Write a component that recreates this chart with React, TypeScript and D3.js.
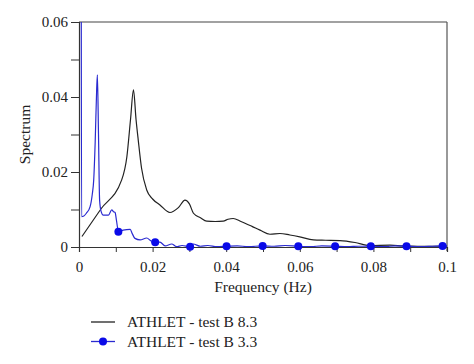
import { useEffect, useRef } from "react";
import * as d3 from "d3";

// black series (test B 8.3)
const freqB83 = [0.0008, 0.006, 0.0116, 0.013, 0.014, 0.0148, 0.0155, 0.0161, 0.017, 0.0184, 0.02, 0.022, 0.0247, 0.027, 0.0288, 0.03, 0.0311, 0.033, 0.0347, 0.037, 0.0392, 0.0405, 0.0419, 0.044, 0.047, 0.0492, 0.0519, 0.0546, 0.0573, 0.06, 0.0637, 0.067, 0.0709, 0.075, 0.079, 0.0845, 0.088, 0.092, 0.096, 0.1];
const specB83 = [0.0028, 0.0102, 0.0179, 0.024, 0.034, 0.0419, 0.034, 0.0285, 0.021, 0.0152, 0.0128, 0.0112, 0.0092, 0.0105, 0.0125, 0.0115, 0.009, 0.0078, 0.0069, 0.0068, 0.0069, 0.0074, 0.0076, 0.0068, 0.0055, 0.0045, 0.0034, 0.0036, 0.0032, 0.0027, 0.0019, 0.0018, 0.0017, 0.0012, 0.0004, 0.0005, 0.0003, 0.0002, 0.0002, 0.0002];

// blue series (test B 3.3)
const freqB33 = [0.0006, 0.0007, 0.0012, 0.002, 0.003, 0.0036, 0.004, 0.0044, 0.0048, 0.005, 0.0053, 0.0056, 0.006, 0.0066, 0.008, 0.0089, 0.0094, 0.0098, 0.0102, 0.0107, 0.012, 0.0139, 0.0145, 0.0152, 0.0166, 0.0184, 0.0196, 0.0207, 0.022, 0.0234, 0.0252, 0.0265, 0.028, 0.0302, 0.031, 0.033, 0.035, 0.0375, 0.0401, 0.043, 0.046, 0.0499, 0.053, 0.056, 0.0596, 0.063, 0.066, 0.0696, 0.073, 0.076, 0.0793, 0.083, 0.086, 0.089, 0.093, 0.096, 0.0988, 0.1];
const specB33 = [0.08, 0.0081, 0.0082, 0.009, 0.0107, 0.014, 0.0179, 0.028, 0.042, 0.0459, 0.03, 0.0125, 0.0095, 0.0085, 0.0085, 0.0099, 0.0094, 0.0092, 0.007, 0.0041, 0.0045, 0.0047, 0.0035, 0.0023, 0.0019, 0.0024, 0.0016, 0.0013, 0.0013, 0.0003, 0.0008, 0.0001, 0.0004, 0.0001, 0.0008, 0.0002, 0.0004, 0.0001, 0.0002, 0.0003, 0.0001, 0.0003, 0.0002, 0.0004, 0.0002, 0.0001, 0.0003, 0.0002, 0.0001, 0.0002, 0.0002, 0.0001, 0.0003, 0.0002, 0.0001, 0.0002, 0.0003, 0.0003];
const markerFreq = [0.0107, 0.0207, 0.0302, 0.0401, 0.0499, 0.0596, 0.0696, 0.0793, 0.089, 0.0988];
const markerSpec = [0.0041, 0.0013, 0.0001, 0.0002, 0.0003, 0.0002, 0.0002, 0.0002, 0.0002, 0.0003];

const xTicks = [0, 0.02, 0.04, 0.06, 0.08, 0.1];
const yTicks = [0, 0.02, 0.04, 0.06];
const legendLabels = ["ATHLET - test B 8.3", "ATHLET - test B 3.3"];

const W = 474, H = 364;
const margin = { top: 22, right: 27, bottom: 117, left: 79 };
const font = "Liberation Serif";

export default function App() {
  const ref = useRef<SVGSVGElement>(null);

  useEffect(() => {
    document.body.style.margin = "0";
    const svg = d3.select(ref.current);
    svg.selectAll("*").remove();
    const iw = W - margin.left - margin.right;
    const ih = H - margin.top - margin.bottom;

    const x = d3.scaleLinear().domain([0, 0.1]).range([0, iw]);
    const y = d3.scaleLinear().domain([0, 0.06]).range([ih, 0]);

    svg.append("defs").append("clipPath").attr("id", "plotclip")
      .append("rect").attr("width", iw).attr("height", ih);

    const g = svg.append("g").attr("transform", `translate(${margin.left},${margin.top})`);

    // box top and right
    g.append("line").attr("x1", 0).attr("x2", iw).attr("y1", 0).attr("y2", 0).attr("stroke", "#444").attr("stroke-width", 1.2);
    g.append("line").attr("x1", iw).attr("x2", iw).attr("y1", 0).attr("y2", ih + 4).attr("stroke", "#555").attr("stroke-width", 1.2);

    // x axis
    const xa = g.append("g").attr("transform", `translate(0,${ih})`)
      .call(d3.axisBottom(x).ticks(10).tickSize(5).tickFormat(d => xTicks.some(t => Math.abs(t - +d) < 1e-9) ? d3.format("~g")(+d) : ""));
    xa.select(".domain").attr("stroke", "#333").attr("stroke-width", 1.2);
    xa.selectAll("line").attr("stroke", "#333");
    xa.selectAll("text").style("font-family", font).style("font-size", "15px").attr("fill", "#222").attr("dy", "1.1em");

    // y axis
    const ya = g.append("g")
      .call(d3.axisLeft(y).ticks(6).tickSize(8).tickFormat(d => yTicks.some(t => Math.abs(t - +d) < 1e-9) ? d3.format("~g")(+d) : ""));
    ya.select(".domain").attr("stroke", "#333").attr("stroke-width", 1.2);
    ya.selectAll("line").attr("stroke", "#333");
    ya.selectAll("text").style("font-family", font).style("font-size", "15px").attr("fill", "#222").attr("x", -11);

    const line = d3.line<[number, number]>().x(d => x(d[0])).y(d => y(d[1])).curve(d3.curveMonotoneX);

    const plot = g.append("g").attr("clip-path", "url(#plotclip)");
    plot.append("path")
      .attr("d", line(freqB83.map((f, i) => [f, specB83[i]] as [number, number])))
      .attr("fill", "none").attr("stroke", "#222").attr("stroke-width", 1.2);
    plot.append("path")
      .attr("d", line(freqB33.map((f, i) => [f, specB33[i]] as [number, number])))
      .attr("fill", "none").attr("stroke", "#2a2ad0").attr("stroke-width", 1.2);

    g.selectAll("circle.m").data(markerFreq).join("circle")
      .attr("class", "m")
      .attr("cx", d => x(d)).attr("cy", (_, i) => y(markerSpec[i]))
      .attr("r", 4).attr("fill", "#0a0ae8");

    // axis titles
    svg.append("text").attr("x", margin.left + iw / 2).attr("y", 292)
      .attr("text-anchor", "middle").style("font-family", font).style("font-size", "15.5px").attr("fill", "#222")
      .text("Frequency (Hz)");
    svg.append("text").attr("transform", `translate(30,${margin.top + ih / 2}) rotate(-90)`)
      .attr("text-anchor", "middle").style("font-family", font).style("font-size", "15.5px").attr("fill", "#222")
      .text("Spectrum");

    // legend
    const lg = svg.append("g").attr("transform", "translate(91,322)");
    legendLabels.forEach((lab, i) => {
      const row = lg.append("g").attr("transform", `translate(0,${i * 19.5})`);
      row.append("line").attr("x1", 0).attr("x2", 24).attr("y1", 0).attr("y2", 0)
        .attr("stroke", i === 0 ? "#222" : "#2a2ad0").attr("stroke-width", 1.3);
      if (i === 1) row.append("circle").attr("cx", 12).attr("cy", 0).attr("r", 4).attr("fill", "#0a0ae8");
      row.append("text").attr("x", 36).attr("y", 5).style("font-family", font).style("font-size", "15.5px").attr("fill", "#222").text(lab);
    });
  }, []);

  return <svg ref={ref} width={W} height={H} style={{ display: "block", background: "#fff" }} />;
}
